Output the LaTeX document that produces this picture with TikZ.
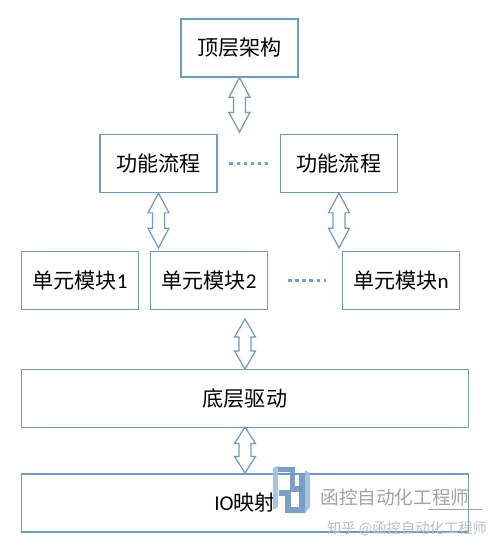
\documentclass[tikz,border=0pt]{standalone}
\usepackage{fontspec}
\setmainfont{Carlito}
\newfontfamily\cjk{Noto Sans CJK SC}
\usepackage{tikz}
\usetikzlibrary{calc}
\usepackage{xcolor}
\definecolor{boxblue}{HTML}{6F9BC0}
\definecolor{dotblue}{HTML}{6FA3CC}
\definecolor{logoblue}{HTML}{6F94C2}
\definecolor{logolight}{HTML}{9CC0E0}
\definecolor{markgray}{HTML}{9EA3AC}
\tikzset{
  block/.style={draw=boxblue,line width=0.7pt,fill=white,minimum width=66.5pt,minimum height=33pt,inner sep=0pt,font=\fontsize{12pt}{14pt}\selectfont},
  wideblock/.style={block,minimum width=254pt},
  bothway/.style={draw=boxblue,line width=0.7pt,fill=white,to path={
    -- ($(\tikztostart)!.36!(\tikztotarget)+(10.5,0)$) -- ($(\tikztostart)!.36!(\tikztotarget)+(6,0)$)
    -- ($(\tikztostart)!.64!(\tikztotarget)+(6,0)$) -- ($(\tikztostart)!.64!(\tikztotarget)+(10.5,0)$)
    -- (\tikztotarget)
    -- ($(\tikztostart)!.64!(\tikztotarget)+(-10.5,0)$) -- ($(\tikztostart)!.64!(\tikztotarget)+(-6,0)$)
    -- ($(\tikztostart)!.36!(\tikztotarget)+(-6,0)$) -- ($(\tikztostart)!.36!(\tikztotarget)+(-10.5,0)$)
    -- cycle}},
  dotline/.style={draw=dotblue,line width=1.7pt,dash pattern=on 2.2pt off 1.8pt}
}
\begin{document}
\begin{tikzpicture}[x=0.02cm,y=-0.02cm]
\useasboundingbox (0,0) rectangle (500,549);
\node[block] (top) at (239.5,48) {\cjk 顶层架构};
\node[block] (flowa) at (158.5,163.5) {\cjk 功能流程};
\node[block] (flowb) at (339,163.5) {\cjk 功能流程};
\node[block] (moda) at (80,280.5) {{\cjk 单元模块}1};
\node[block] (modb) at (209,280.5) {{\cjk 单元模块}2};
\node[block] (modn) at (401,280.5) {{\cjk 单元模块}n};
\node[wideblock] (low) at (245,398.5) {\cjk 底层驱动};
\node[wideblock] (io) at (245,503) {IO{\cjk 映射}};
% free ends of the arrows
\coordinate (topend) at (239.5,132);
\coordinate (flowaend) at (158.5,248);
\coordinate (flowbend) at (339,248);
\coordinate (lowstart) at (245,319);
\coordinate (lowend) at (245,369);
\coordinate (iostart) at (245,427);
\coordinate (ioend) at (245,473);
\draw[bothway] (top.south) to (topend);
\draw[bothway] (flowa.south) to (flowaend);
\draw[bothway] (flowb.south) to (flowbend);
\draw[bothway] (lowstart) to (lowend);
\draw[bothway] (iostart) to (ioend);
\draw[dotline,shorten <=6.8pt,shorten >=6.8pt] (flowa.east) -- (flowb.west);
\draw[dotline,shorten <=11.6pt,shorten >=9.1pt] (modb.east) -- (modn.west);
% watermark
\fill[logolight,opacity=.9] (273,468) -- (278,466) -- (278,507) -- (273,510) -- cycle;
\fill[logolight,opacity=.9] (305,470) -- (310,473) -- (310,507) -- (305,513) -- cycle;
\draw[logoblue,line width=3pt,opacity=.9] (278,469.5) -- (292.5,469.5) -- (292.5,489) -- (302,489);
\draw[logoblue,line width=3.4pt,opacity=.9] (302,473) -- (302,510) -- (288,510) -- (288,493) -- (279,493);
\node[text=markgray,font=\cjk\fontsize{10.6pt}{12pt}\selectfont,inner sep=0pt] (markname) at (395,497) {函控自动化工程师};
\draw[markgray,line width=0.5pt] (428,509) -- (482,509);
\node[text=markgray!70,font=\cjk\fontsize{8.15pt}{9pt}\selectfont,inner sep=0pt] (markzhihu) at (407,529) {知乎 @函控自动化工程师};
\end{tikzpicture}
\end{document}
